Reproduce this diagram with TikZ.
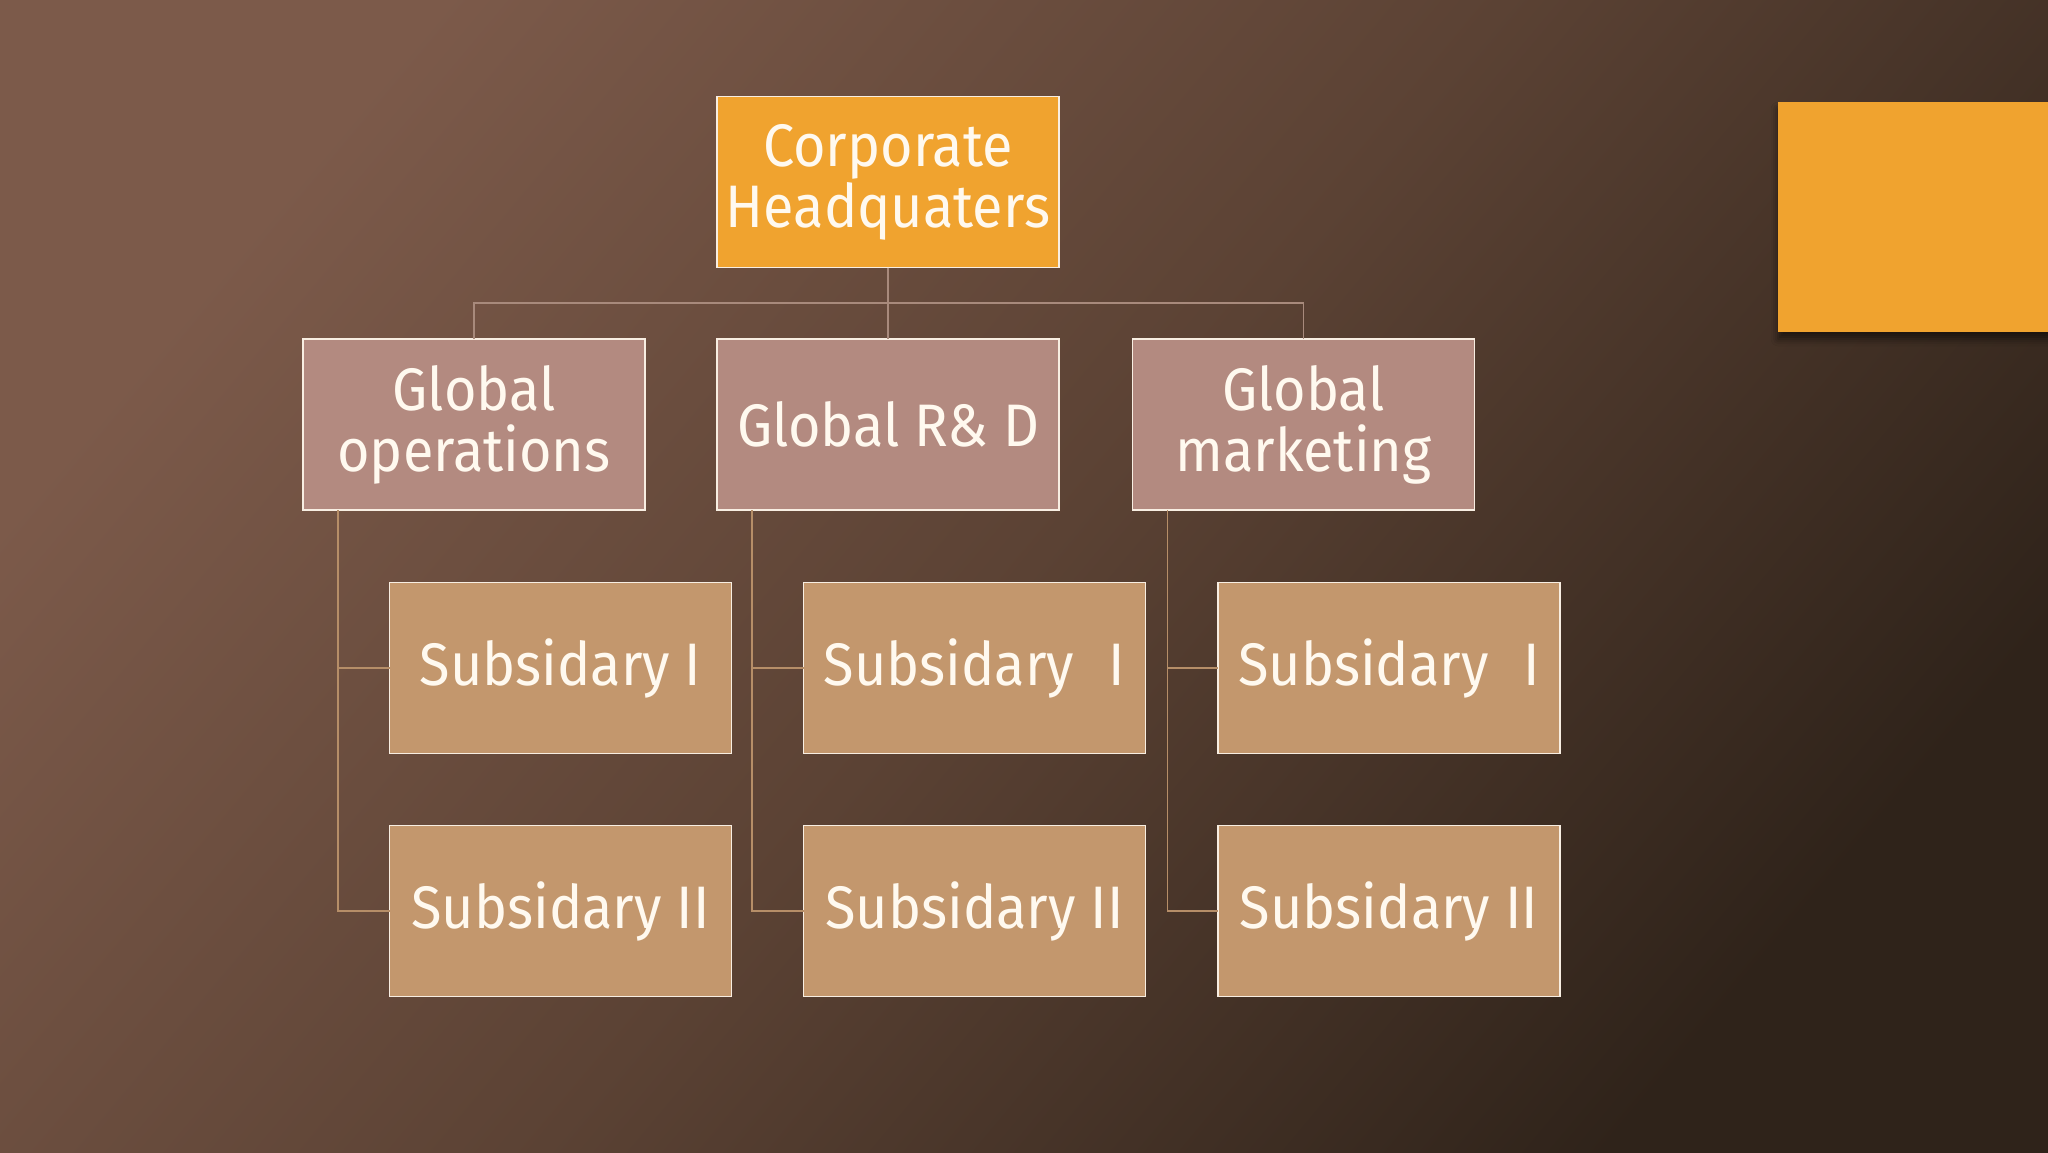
\documentclass[tikz,border=0pt]{standalone}
\usepackage{fontspec}
\setmainfont{Fira Sans}[FakeStretch=0.93]
\usetikzlibrary{shadows.blur}
\definecolor{bgA}{HTML}{7C5A4A}
\definecolor{bgB}{HTML}{5B4234}
\definecolor{bgC}{HTML}{2F231A}
\definecolor{hqfill}{HTML}{F0A32F}
\definecolor{lvtwo}{HTML}{B38A80}
\definecolor{lvthree}{HTML}{C3976D}
\definecolor{edgec}{HTML}{F8EEE2}
\definecolor{txtc}{HTML}{FFF9EF}
\definecolor{linetop}{HTML}{A88A7C}
\definecolor{linesub}{HTML}{B68E68}
\tikzset{
  box/.style={draw=edgec, line width=1.8pt, inner sep=0pt, outer sep=0pt,
    minimum width=342pt, minimum height=171pt, text=txtc, align=center,
    font=\fontsize{60}{61}\selectfont},
  hqbox/.style={box, fill=hqfill},
  midbox/.style={box, fill=lvtwo},
  subbox/.style={box, fill=lvthree},
  toplink/.style={draw=linetop, line width=1.6pt},
  sublink/.style={draw=linesub, line width=1.6pt},
}
\begin{document}
\begin{tikzpicture}[x=1pt,y=-1pt]
\useasboundingbox (0,0) rectangle (2048,1152);
\shade[shading=axis, top color=bgA, bottom color=bgC, middle color=bgB, shading angle=50] (0,0) rectangle (2048,1152);
% accent rectangle
\fill[hqfill, blur shadow={shadow xshift=0pt, shadow yshift=-7pt, shadow blur radius=7pt, shadow opacity=55}] (1778,102) rectangle (2060,332);
% nodes
\node[hqbox] (hq) at (888,182) {Corporate\\Headquaters};
\node[midbox] (ops) at (474,424.5) {Global\\operations};
\node[midbox] (rd) at (888,424.5) {Global R\& D};
\node[midbox] (mkt) at (1303.5,424.5) {Global\\marketing};
\node[subbox] (s11) at (560.5,668) {Subsidary I};
\node[subbox] (s12) at (560.5,911) {Subsidary II};
\node[subbox] (s21) at (974.5,668) {Subsidary\hspace{20pt} I};
\node[subbox] (s22) at (974.5,911) {Subsidary II};
\node[subbox] (s31) at (1389,668) {Subsidary\hspace{20pt} I};
\node[subbox] (s32) at (1389,911) {Subsidary II};
% connectors
\coordinate (bus) at (888,303);
\draw[toplink] (hq.south) -- (bus);
\draw[toplink] (ops.north) |- (bus) -| (mkt.north);
\draw[toplink] (bus) -- (rd.north);
\coordinate (a1) at ([xshift=35pt]ops.south west);
\coordinate (a2) at ([xshift=35pt]rd.south west);
\coordinate (a3) at ([xshift=35pt]mkt.south west);
\draw[sublink] (a1) |- (s12.west);
\draw[sublink] (a1 |- s11.west) -- (s11.west);
\draw[sublink] (a2) |- (s22.west);
\draw[sublink] (a2 |- s21.west) -- (s21.west);
\draw[sublink] (a3) |- (s32.west);
\draw[sublink] (a3 |- s31.west) -- (s31.west);
\end{tikzpicture}
\end{document}
